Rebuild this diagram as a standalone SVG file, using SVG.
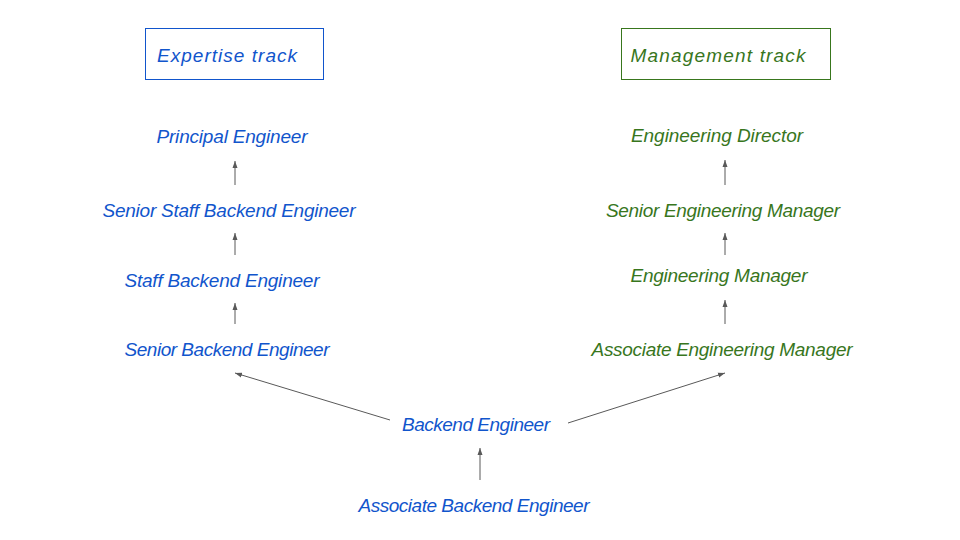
<svg xmlns="http://www.w3.org/2000/svg" width="960" height="540" viewBox="0 0 960 540">
<style>
text{font-family:"Liberation Sans",Arial,sans-serif;font-style:italic;font-size:19px;text-anchor:middle;dominant-baseline:central}
.b{fill:#1155cc}.g{fill:#38761d}
.c line{stroke:#595959;stroke-width:1;marker-end:url(#a)}
</style>
<defs><marker id="a" markerWidth="8" markerHeight="8" refX="7" refY="4" orient="auto" markerUnits="userSpaceOnUse"><path d="M0,1.5L7,4L0,6.5Z" fill="#595959"/></marker></defs>
<rect width="960" height="540" fill="#fff"/>
<g id="expertise"><rect x="145.5" y="28.5" width="178" height="51" fill="none" stroke="#1155cc"/><text class="b" x="227" y="55" textLength="140" font-size="21">Expertise track</text></g>
<g id="management"><rect x="621.5" y="28.5" width="209" height="51" fill="none" stroke="#38761d"/><text class="g" x="718" y="55" textLength="175" font-size="21">Management track</text></g>
<g id="principal"><text class="b" x="232" y="136" textLength="151">Principal Engineer</text></g>
<g id="seniorstaff"><text class="b" x="229" y="210" textLength="253">Senior Staff Backend Engineer</text></g>
<g id="staff"><text class="b" x="222" y="280" textLength="195">Staff Backend Engineer</text></g>
<g id="senior"><text class="b" x="227" y="349" textLength="205">Senior Backend Engineer</text></g>
<g id="director"><text class="g" x="717" y="135" textLength="172">Engineering Director</text></g>
<g id="sem"><text class="g" x="723" y="210" textLength="234">Senior Engineering Manager</text></g>
<g id="em"><text class="g" x="719" y="275" textLength="177">Engineering Manager</text></g>
<g id="aem"><text class="g" x="722" y="349" textLength="261">Associate Engineering Manager</text></g>
<g id="backend"><text class="b" x="476" y="424" textLength="148">Backend Engineer</text></g>
<g id="abe"><text class="b" x="474" y="505" textLength="231">Associate Backend Engineer</text></g>
<g class="c" id="connectors">
<line x1="235" y1="185" x2="235" y2="161"/>
<line x1="235" y1="255" x2="235" y2="233"/>
<line x1="235" y1="324" x2="235" y2="303"/>
<line x1="725" y1="185" x2="725" y2="160"/>
<line x1="725" y1="255" x2="725" y2="233"/>
<line x1="725" y1="324" x2="725" y2="300"/>
<line x1="390" y1="420" x2="235" y2="373"/>
<line x1="568" y1="423" x2="725" y2="373"/>
<line x1="480" y1="480" x2="480" y2="448"/>
</g>
</svg>
